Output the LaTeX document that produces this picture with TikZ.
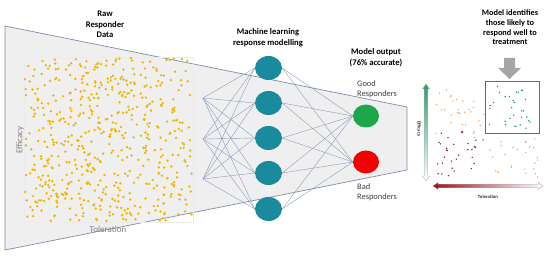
\documentclass[tikz,border=0pt]{standalone}
\usepackage{fontspec}
\setmainfont{Carlito}
\usepackage{xcolor}
\usepackage{tikz}
\usetikzlibrary{shapes.geometric, arrows}

\definecolor{funnelfill}{HTML}{EFEFEF}
\definecolor{funneledge}{HTML}{7D8EA8}
\definecolor{dotyellow}{HTML}{F2B705}
\definecolor{netteal}{HTML}{1A8B9D}
\definecolor{netgreen}{HTML}{1CA84A}
\definecolor{netred}{HTML}{F20000}
\definecolor{linkblue}{HTML}{8C9DBE}
\definecolor{effgreen}{HTML}{2E9E6A}
\definecolor{toldred}{HTML}{A0101E}
\definecolor{dotorange}{HTML}{E8A468}
\definecolor{dotdark}{HTML}{8E1B2C}
\definecolor{dotteal}{HTML}{1E8C8C}
\definecolor{boxedge}{HTML}{5A6E80}

\begin{document}
\begin{tikzpicture}[x=1pt, y=-1pt, every node/.style={inner sep=0pt}]
        % Define styles
        \tikzstyle{title} = [font=\fontsize{8.6}{10.6}\selectfont\bfseries, align=center]
        \tikzstyle{note} = [font=\fontsize{8.4}{10}\selectfont, align=left, text=black!75]
        \tikzstyle{axislabel} = [font=\fontsize{9}{10}\selectfont, text=black!50]
        \tikzstyle{tinylabel} = [font=\fontsize{4.8}{5}\selectfont\bfseries, text=black!80]
        \tikzstyle{neuron} = [ellipse, fill=netteal, minimum width=27pt, minimum height=24pt]
        \tikzstyle{outneuron} = [ellipse, minimum width=26pt, minimum height=23pt]
        \tikzstyle{link} = [draw=linkblue, line width=0.4pt]
        \useasboundingbox (0,0) rectangle (550,256);

        % Funnel
        \filldraw[fill=funnelfill, draw=funneledge, line width=0.7pt]
            (5,26) -- (407,107) -- (407,170) -- (5,250) -- cycle;

        % Raw data scatter
        \draw[black!8, line width=0.3pt] (24,57) rectangle (193,222);
        \draw[black!6, line width=0.3pt] (108,57) -- (108,222) (24,140) -- (193,140);
        \pgfmathsetseed{7}
        \foreach \i in {1,...,560} {
            \pgfmathsetmacro{\px}{25+167*rnd}
            \pgfmathsetmacro{\py}{58+163*rnd}
            \fill[dotyellow] (\px,\py) circle (1.35);
        }
        \node (rawtitle) at (105,24.5) [title] {Raw\\Responder\\Data};
        \node (raweff) at (20,140) [axislabel, rotate=90] {Efficacy};
        \node (rawtol) at (108,229) [axislabel] {Toleration};

        % Network
        \coordinate (in1) at (203,98);
        \coordinate (in2) at (203,139);
        \coordinate (in3) at (203,179);
        \node (h1) at (268.5,68) [neuron] {};
        \node (h2) at (268.5,103) [neuron] {};
        \node (h3) at (268.5,138) [neuron] {};
        \node (h4) at (268.5,173) [neuron] {};
        \node (h5) at (268.5,209) [neuron] {};
        \node (good) at (366,116) [outneuron, fill=netgreen] {};
        \node (bad) at (366,162) [outneuron, fill=netred] {};
        \foreach \i in {1,2,3}
            \foreach \j in {1,...,5}
                \draw [link] (in\i) -- (h\j.west);
        \foreach \j in {1,...,5} {
            \draw [link] (h\j.east) -- (good.west);
            \draw [link] (h\j.east) -- (bad.west);
        }
        \node (mltitle) at (268,37.5) [title] {Machine learning\\response modelling};
        \node (outtitle) at (376,57.5) [title] {Model output\\(76\% accurate)};
        \node (goodlabel) at (357,89) [note, anchor=west] {Good\\Responders};
        \node (badlabel) at (357,192) [note, anchor=west] {Bad\\Responders};

        % Responder map
        \shade[top color=effgreen, bottom color=white, draw=black!35, line width=0.3pt]
            (426,84) -- (429.5,89) -- (427.8,89) -- (427.8,176) -- (429.5,176) -- (426,181)
            -- (422.5,176) -- (424.2,176) -- (424.2,89) -- (422.5,89) -- cycle;
        \shade[left color=toldred, right color=white, draw=black!35, line width=0.3pt]
            (433,186) -- (438,182.5) -- (438,184.2) -- (538,184.2) -- (538,182.5) -- (543,186)
            -- (538,189.5) -- (538,187.8) -- (438,187.8) -- (438,189.5) -- cycle;
        \node (mapeff) at (419,129) [tinylabel, rotate=-90] {Efficacy};
        \node (maptol) at (488,197) [tinylabel] {Toleration};
        \pgfmathsetseed{21}
        \foreach \i in {1,...,30} {
            \pgfmathsetmacro{\px}{489+47*rnd}
            \pgfmathsetmacro{\py}{85+45*rnd}
            \fill[dotteal] (\px,\py) circle (0.8);
        }
        \foreach \i in {1,...,30} {
            \pgfmathsetmacro{\px}{436+48*rnd}
            \pgfmathsetmacro{\py}{88+50*rnd}
            \fill[dotorange] (\px,\py) circle (0.8);
        }
        \foreach \i in {1,...,32} {
            \pgfmathsetmacro{\px}{436+52*rnd}
            \pgfmathsetmacro{\py}{130+48*rnd}
            \fill[dotdark] (\px,\py) circle (0.8);
        }
        \foreach \i in {1,...,26} {
            \pgfmathsetmacro{\px}{488+50*rnd}
            \pgfmathsetmacro{\py}{136+42*rnd}
            \fill[dotorange] (\px,\py) circle (0.8);
        }
        \node (goodbox) at (512,107) [draw=boxedge, line width=0.7pt, minimum width=54pt, minimum height=52pt] {};
        % Pointer arrow
        \fill[black!35] (504,58) -- (515,58) -- (515,68) -- (521,68) -- (509.5,79)
            -- (498,68) -- (504,68) -- cycle;
        \node (idtitle) at (510,27.5) [title, font=\fontsize{8.3}{9.7}\selectfont\bfseries] {Model identifies\\those likely to\\respond well to\\treatment};
    \end{tikzpicture}
\end{document}
